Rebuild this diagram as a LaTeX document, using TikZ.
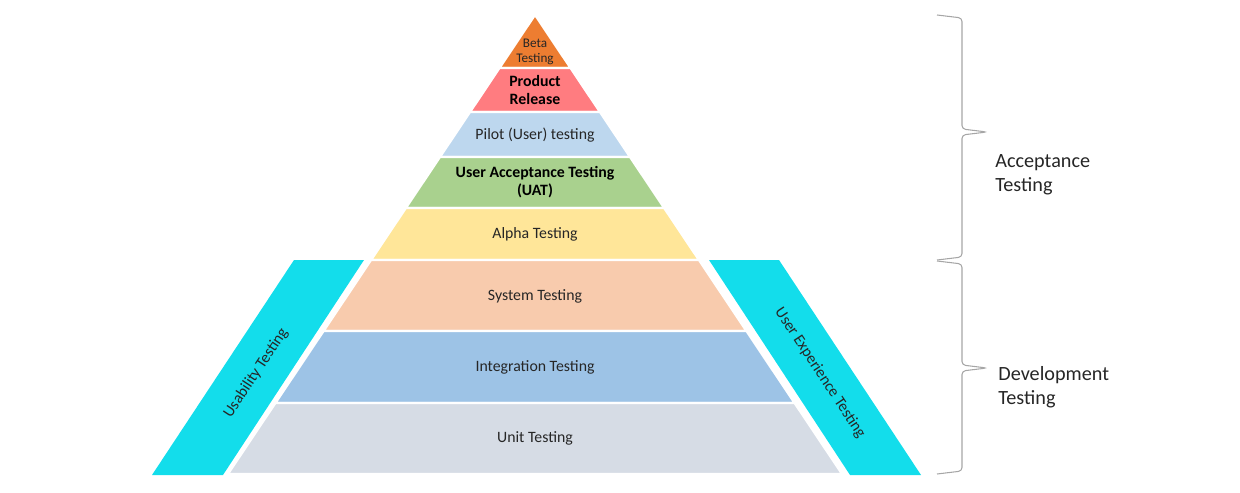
\documentclass[tikz,border=0pt]{standalone}
\usepackage{fontspec}
\setmainfont{Carlito}

\definecolor{betaorange}{HTML}{ED7D31}
\definecolor{releasered}{HTML}{FF7C80}
\definecolor{pilotblue}{HTML}{BDD7EE}
\definecolor{uatgreen}{HTML}{A9D18E}
\definecolor{alphayellow}{HTML}{FFE699}
\definecolor{systempeach}{HTML}{F8CBAD}
\definecolor{integrationblue}{HTML}{9DC3E6}
\definecolor{unitgray}{HTML}{D6DCE5}
\definecolor{barcyan}{HTML}{13DDEB}
\definecolor{bracegray}{HTML}{A6A6A6}

\tikzset{
  layer/.style={draw=white, line width=1.2pt},
  layertext/.style={font=\fontsize{9}{10.5}\selectfont, align=center, text=black!85},
  layerbold/.style={font=\fontsize{9}{10.5}\selectfont\bfseries, align=center, text=black},
  sidebar/.style={fill=barcyan},
  bracket/.style={draw=bracegray, line width=0.6pt, rounded corners=2pt},
  sidetext/.style={font=\fontsize{11.5}{13.6}\selectfont, align=left, anchor=west, inner sep=0pt, text=black!85}
}

\begin{document}
\begin{tikzpicture}[x=0.02cm, y=-0.02cm]
\useasboundingbox (0,0) rectangle (1240,493);

% pyramid layers
\foreach \ya/\yb/\col in {15/68/betaorange, 68/112/releasered, 112/157/pilotblue,
  157/208/uatgreen, 208/260/alphayellow, 260/331/systempeach,
  331/403/integrationblue, 403/474/unitgray}
  \filldraw[layer, fill=\col] ({535-(\ya-15)*0.6688},\ya) -- ({535+(\ya-15)*0.6688},\ya)
    -- ({535+(\yb-15)*0.6688},\yb) -- ({535-(\yb-15)*0.6688},\yb) -- cycle;

% side bars
\fill[sidebar] (294,260) -- (364,260) -- (223,475) -- (152,475) -- cycle;
\fill[sidebar] (709,260) -- (779,260) -- (921,475) -- (850,475) -- cycle;

% layer labels
\node[layertext, font=\fontsize{7.5}{8.5}\selectfont] (beta) at (535,52) {Beta\\Testing};
\node[layerbold] (release) at (535,90) {Product\\Release};
\node[layertext] (pilot) at (535,135) {Pilot (User) testing};
\node[layerbold] (uat) at (535,182) {User Acceptance Testing\\(UAT)};
\node[layertext] (alpha) at (535,234) {Alpha Testing};
\node[layertext] (system) at (535,296) {System Testing};
\node[layertext] (integration) at (535,367) {Integration Testing};
\node[layertext] (unit) at (535,438) {Unit Testing};

% bar labels
\node[layertext, rotate=56.6] (usability) at (256,373) {Usability Testing};
\node[layertext, rotate=-56.6] (ux) at (820,373) {User Experience Testing};

% braces
\draw[bracket] (937,15) -- (962,18) -- (962,129) -- (987,132) -- (962,135) -- (962,257) -- (937,260);
\draw[bracket] (937,261) -- (962,264) -- (962,365) -- (987,368) -- (962,371) -- (962,471) -- (937,474);

\node[sidetext] (acceptance) at (995,175) {Acceptance\\Testing};
\node[sidetext] (development) at (998,387) {Development\\Testing};

\end{tikzpicture}
\end{document}
